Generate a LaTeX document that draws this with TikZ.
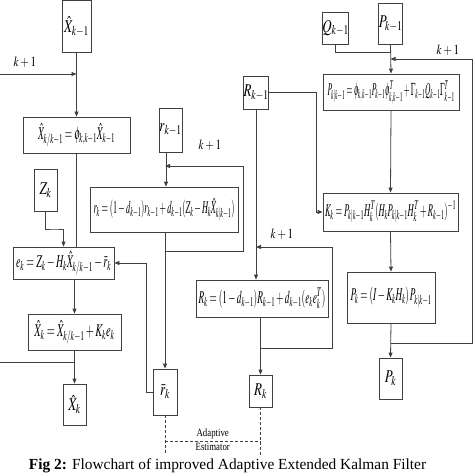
\documentclass[tikz,border=0pt]{standalone}
\usepackage{mathptmx}
\usepackage{fontspec}
\setmainfont{Liberation Serif}
\usepackage{graphicx}
\usetikzlibrary{arrows.meta,calc}
\newcommand{\fm}[2][0.72]{\scalebox{#1}[1]{$#2$}}
\newcommand{\fw}[2]{\resizebox{#1}{\height}{$#2$}}
\begin{document}
\begin{tikzpicture}[x=1pt,y=-1pt,
  line width=0.8pt, draw=black!75,
  box/.style={draw=black!75, line width=0.8pt, inner sep=0pt, font=\fontsize{18}{20}\selectfont},
  sbox/.style={box, font=\fontsize{18}{20}\selectfont},
  arr/.style={-{Triangle[length=5pt,width=4pt]}},
  lbl/.style={font=\fontsize{14}{16}\selectfont, inner sep=0pt},
  dsh/.style={dashed, dash pattern=on 3pt off 2pt, line width=0.6pt}]
\useasboundingbox (0,0) rectangle (474,476);
% left column
\node[sbox, minimum width=29pt, minimum height=52pt] (xk1) at (76.5,26.5) {\fm{\hat{X}_{k-1}}};
\node[box, minimum width=107pt, minimum height=36pt] (xpred) at (76.5,135) {\fw{77pt}{\hat{X}_{k/k-1}=\phi_{k,k-1}\hat{X}_{k-1}}};
\node[sbox, minimum width=23pt, minimum height=42pt] (zk) at (45.5,190) {\fm{Z_k}};
\node[box, minimum width=101pt, minimum height=32pt] (ek) at (63.5,263) {\fw{95pt}{e_k=Z_k-H_k\hat{X}_{k/k-1}-\bar{r}_k}};
\node[box, minimum width=93pt, minimum height=36pt] (xk) at (74.5,332) {\fw{80pt}{\hat{X}_k=\hat{X}_{k/k-1}+K_ke_k}};
\node[sbox, minimum width=23pt, minimum height=41pt] (xkout) at (74.5,404.5) {\fm{\hat{X}_k}};
% middle column
\node[sbox, minimum width=23pt, minimum height=44pt] (rk1) at (170.5,130) {\fm{r_{k-1}}};
\node[box, minimum width=148pt, minimum height=45pt] (rk) at (164,209.5) {\fw{141pt}{r_k=(1-d_{k-1})r_{k-1}+d_{k-1}(Z_k-H_k\hat{X}_{k|k-1})}};
\node[sbox, minimum width=24pt, minimum height=46pt] (rbar) at (165,392) {\fm{\bar{r}_k}};
\node[sbox, minimum width=24pt, minimum height=33pt] (Rk1) at (256,92.5) {\fm{R_{k-1}}};
\node[box, minimum width=132pt, minimum height=37pt] (Rkf) at (262,298.5) {\fw{127pt}{R_k=(1-d_{k-1})R_{k-1}+d_{k-1}(e_ke_k^T)}};
\node[sbox, minimum width=23pt, minimum height=32pt] (Rk) at (260.5,391) {\fm{R_k}};
% right column
\node[sbox, minimum width=23pt, minimum height=32pt] (Qk1) at (335.5,28) {\fm{Q_{k-1}}};
\node[sbox, minimum width=23pt, minimum height=41pt] (Pk1) at (390.5,23.5) {\fm{P_{k-1}}};
\node[box, minimum width=136pt, minimum height=36pt] (Ppred) at (391,92) {\fw{127pt}{P_{k|k-1}=\phi_{k,k-1}P_{k-1}\phi_{k,k-1}^T+\Gamma_{k-1}Q_{k-1}\Gamma_{k-1}^T}};
\node[box, minimum width=135pt, minimum height=38pt] (Kk) at (390.5,212) {\fw{131pt}{K_k=P_{k|k-1}H_k^T(H_kP_{k|k-1}H_k^T+R_{k-1})^{-1}}};
\node[box, minimum width=88pt, minimum height=51pt] (Pkf) at (391,297.5) {\fw{81pt}{P_k=\left(I-K_kH_k\right)P_{k|k-1}}};
\node[sbox, minimum width=23pt, minimum height=41pt] (Pk) at (390.5,378.5) {\fm{P_k}};
% free ends
\coordinate (inL) at (0,74);
\coordinate (outL) at (0,362);
\coordinate (rR) at (243,166);
\coordinate (rB) at (243,251);
\coordinate (RR) at (332,247);
\coordinate (RB) at (332,348);
\coordinate (PR) at (472,59);
\coordinate (PB) at (472,343);
% left connectors
\draw[arr] (xk1.south) -- (xpred.north);
\draw[arr] (inL) -- (xk1.south |- inL);
\draw (xpred.south) -- (xpred.south |- ek.north);
\draw[arr] (zk.south) |- ($(zk.south)!.5!(ek.north)$) -| (ek.north);
\draw[arr] (xk.north |- ek.south) -- (xk.north);
\draw[arr] (xk.south) -- (xkout.north);
\draw (xk.south |- outL) -- (outL);
% middle connectors
\draw[arr] ([xshift=-4.5pt]rk1.south) -- ([xshift=-4.5pt]rk1.south |- rk.north);
\draw[arr] (rbar.north |- rB) -- (rB) -- (rR) -- (rbar.north |- rR);
\draw[arr] (rbar.north |- rk.south) -- (rbar.north);
\draw[arr] (rbar.west) -- ++(-6,0) |- (ek.east);
\draw[arr] (Rk1.east) -| ($(Kk.west)+(-6,0)$) -- (Kk.west);
\draw[arr] (Rk1.south) -- (Rk1.south |- Rkf.north);
\draw[arr] (Rk.north |- RB) -- (RB) -- (RR) -- (Rk1.south |- RR);
\draw[arr] (Rk.north |- Rkf.south) -- (Rk.north);
% right connectors
\draw (Qk1.south) |- (Pk1.south |- 0,52);
\draw[arr] (Pk1.south) -- (Ppred.north);
\draw[arr] (Ppred.south) -- (Kk.north);
\draw[arr] (Kk.south) -- (Pkf.north);
\draw[arr] (Pkf.south) -- (Pk.north);
\draw[arr] (Pk.north |- PB) -- (PB) -- (PR) -- (Pk1.south |- PR);
% labels
\node[lbl] (l1) at (25,62) {\fm[0.8]{k+1}};
\node[lbl] (l2) at (210,145) {\fm[0.8]{k+1}};
\node[lbl] (l3) at (282,234) {\fm[0.8]{k+1}};
\node[lbl] (l4) at (448,50) {\fm[0.8]{k+1}};
% adaptive estimator
\coordinate (dL) at (rbar.south |- 0,441);
\coordinate (dR) at (Rk.south |- 0,441);
\draw[dsh] (rbar.south) -- (rbar.south |- 0,455);
\draw[dsh] (Rk.south) -- (Rk.south |- 0,455);
\draw[dsh] (dL) -- (dR);
\node[lbl, font=\fontsize{11}{12}\selectfont, above=1.5pt] (ad) at ($(dL)!.5!(dR)$) {\scalebox{0.8}[1]{Adaptive}};
\node[lbl, font=\fontsize{11}{12}\selectfont, below=1.5pt] (es) at ($(dL)!.5!(dR)$) {\scalebox{0.8}[1]{Estimator}};
% caption
\node[inner sep=0pt, font=\fontsize{15.4}{17}\selectfont] (cap) at (227.5,466) {\textbf{Fig 2:} Flowchart of improved Adaptive Extended Kalman Filter};
\end{tikzpicture}
\end{document}
